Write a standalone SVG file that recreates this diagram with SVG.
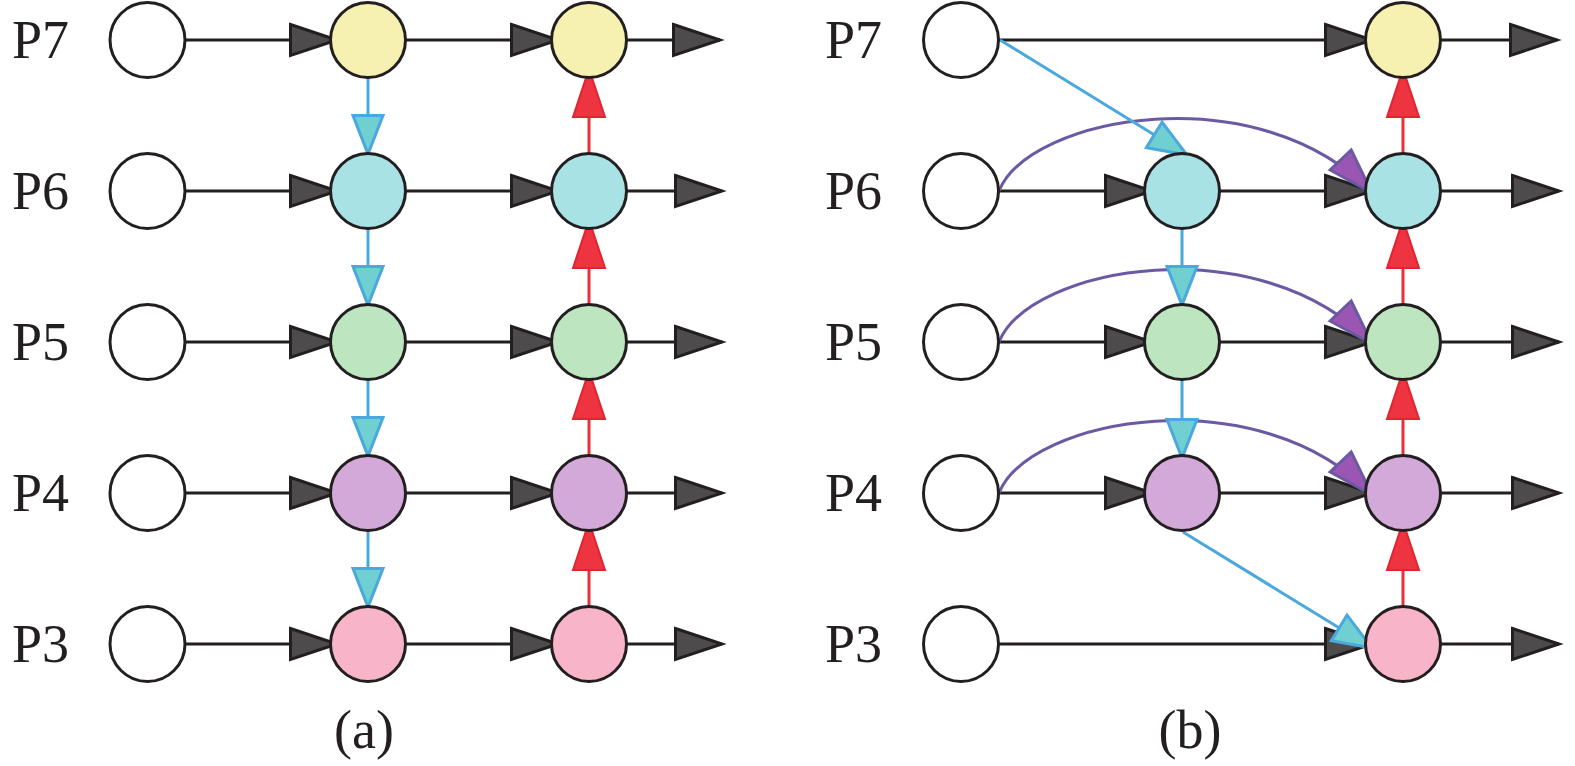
<svg xmlns="http://www.w3.org/2000/svg" width="1575" height="766" viewBox="0 0 1575 766">
<style>
.n{stroke:#231f20;stroke-width:3}
.e{fill:#ffffff}
.y{fill:#f6f1b0}
.c{fill:#a8e2e4}
.g{fill:#bde5c0}
.p{fill:#d3a9da}
.k{fill:#f8b5c9}
.lk{stroke:#231f20;stroke-width:3;fill:none;marker-end:url(#mk)}
.lb{stroke:#4aa8dc;stroke-width:3;fill:none;marker-end:url(#mb)}
.lr{stroke:#e8303a;stroke-width:3;fill:none;marker-end:url(#mr)}
.lp{stroke:#6b59a3;stroke-width:3;fill:none;marker-end:url(#mp)}
text{font-family:"Liberation Serif","Times New Roman",serif;fill:#231f20}
.lab{font-size:54px}
.cap{font-size:54px;text-anchor:middle}
</style>
<defs>
<marker id="mk" markerUnits="userSpaceOnUse" markerWidth="60" markerHeight="40" refX="48" refY="17" orient="auto" overflow="visible">
<path d="M1.5,1.5 L48,17 L1.5,32.5 Z" fill="#4d4b4c" stroke="#231f20" stroke-width="3"/>
</marker>
<marker id="mb" markerUnits="userSpaceOnUse" markerWidth="60" markerHeight="40" refX="40" refY="16.5" orient="auto" overflow="visible">
<path d="M1.5,1.5 L40,16.5 L1.5,31.5 Z" fill="#70cfd0" stroke="#4aa8dc" stroke-width="3"/>
</marker>
<marker id="mr" markerUnits="userSpaceOnUse" markerWidth="60" markerHeight="40" refX="49" refY="17" orient="auto" overflow="visible">
<path d="M1,1 L49,17 L1,33 Z" fill="#ee3440" stroke="#e2242f" stroke-width="2"/>
</marker>
<marker id="mp" markerUnits="userSpaceOnUse" markerWidth="60" markerHeight="40" refX="47" refY="16" orient="auto" overflow="visible">
<path d="M1.5,1.5 L47,16 L1.5,30.5 Z" fill="#9a56b2" stroke="#6b59a3" stroke-width="3"/>
</marker>
</defs>

<g id="connectors">
<line class="lk" x1="185" y1="40" x2="337" y2="40"/>
<line class="lk" x1="406" y1="40" x2="558" y2="40"/>
<line class="lk" x1="627" y1="40" x2="720" y2="40"/>
<line class="lk" x1="185" y1="191" x2="337" y2="191"/>
<line class="lk" x1="406" y1="191" x2="558" y2="191"/>
<line class="lk" x1="627" y1="191" x2="722" y2="191"/>
<line class="lk" x1="185" y1="342" x2="337" y2="342"/>
<line class="lk" x1="406" y1="342" x2="558" y2="342"/>
<line class="lk" x1="627" y1="342" x2="722" y2="342"/>
<line class="lk" x1="185" y1="493" x2="337" y2="493"/>
<line class="lk" x1="406" y1="493" x2="558" y2="493"/>
<line class="lk" x1="627" y1="493" x2="722" y2="493"/>
<line class="lk" x1="185" y1="644" x2="337" y2="644"/>
<line class="lk" x1="406" y1="644" x2="558" y2="644"/>
<line class="lk" x1="627" y1="644" x2="722" y2="644"/>
<line class="lb" x1="368" y1="78" x2="368" y2="154"/>
<line class="lb" x1="368" y1="229" x2="368" y2="305"/>
<line class="lb" x1="368" y1="380" x2="368" y2="456"/>
<line class="lb" x1="368" y1="531" x2="368" y2="607"/>
<line class="lr" x1="589" y1="153" x2="589" y2="69"/>
<line class="lr" x1="589" y1="304" x2="589" y2="220"/>
<line class="lr" x1="589" y1="455" x2="589" y2="371"/>
<line class="lr" x1="589" y1="606" x2="589" y2="522"/>
<line class="lk" x1="999" y1="40" x2="1372" y2="40"/>
<line class="lk" x1="1441" y1="40" x2="1557" y2="40"/>
<line class="lk" x1="999" y1="191" x2="1152" y2="191"/>
<line class="lk" x1="1219" y1="191" x2="1372" y2="191"/>
<line class="lk" x1="1441" y1="191" x2="1559" y2="191"/>
<line class="lk" x1="999" y1="342" x2="1152" y2="342"/>
<line class="lk" x1="1219" y1="342" x2="1372" y2="342"/>
<line class="lk" x1="1441" y1="342" x2="1559" y2="342"/>
<line class="lk" x1="999" y1="493" x2="1152" y2="493"/>
<line class="lk" x1="1219" y1="493" x2="1372" y2="493"/>
<line class="lk" x1="1441" y1="493" x2="1559" y2="493"/>
<line class="lk" x1="999" y1="644" x2="1372" y2="644"/>
<line class="lk" x1="1441" y1="644" x2="1559" y2="644"/>
<path class="lp" d="M999,191 C1030,115 1260,75 1372,193"/>
<path class="lp" d="M999,342 C1030,266 1260,226 1372,344"/>
<path class="lp" d="M999,493 C1030,417 1260,377 1372,495"/>
<line class="lb" x1="1000" y1="40" x2="1187" y2="155"/>
<line class="lb" x1="1182" y1="229" x2="1182" y2="305"/>
<line class="lb" x1="1182" y1="380" x2="1182" y2="458"/>
<line class="lb" x1="1183" y1="532" x2="1372" y2="648"/>
<line class="lr" x1="1403" y1="153" x2="1403" y2="69"/>
<line class="lr" x1="1403" y1="304" x2="1403" y2="220"/>
<line class="lr" x1="1403" y1="455" x2="1403" y2="371"/>
<line class="lr" x1="1403" y1="606" x2="1403" y2="522"/>
</g>

<g id="a-P7-0"><circle class="n e" cx="147.5" cy="40" r="37.5"/></g>
<g id="a-P7-1"><circle class="n y" cx="368" cy="40" r="37.5"/></g>
<g id="a-P7-2"><circle class="n y" cx="589" cy="40" r="37.5"/></g>
<g id="a-P6-0"><circle class="n e" cx="147.5" cy="191" r="37.5"/></g>
<g id="a-P6-1"><circle class="n c" cx="368" cy="191" r="37.5"/></g>
<g id="a-P6-2"><circle class="n c" cx="589" cy="191" r="37.5"/></g>
<g id="a-P5-0"><circle class="n e" cx="147.5" cy="342" r="37.5"/></g>
<g id="a-P5-1"><circle class="n g" cx="368" cy="342" r="37.5"/></g>
<g id="a-P5-2"><circle class="n g" cx="589" cy="342" r="37.5"/></g>
<g id="a-P4-0"><circle class="n e" cx="147.5" cy="493" r="37.5"/></g>
<g id="a-P4-1"><circle class="n p" cx="368" cy="493" r="37.5"/></g>
<g id="a-P4-2"><circle class="n p" cx="589" cy="493" r="37.5"/></g>
<g id="a-P3-0"><circle class="n e" cx="147.5" cy="644" r="37.5"/></g>
<g id="a-P3-1"><circle class="n k" cx="368" cy="644" r="37.5"/></g>
<g id="a-P3-2"><circle class="n k" cx="589" cy="644" r="37.5"/></g>

<g id="b-P7-0"><circle class="n e" cx="961" cy="40" r="37.5"/></g>
<g id="b-P7-2"><circle class="n y" cx="1403" cy="40" r="37.5"/></g>
<g id="b-P6-0"><circle class="n e" cx="961" cy="191" r="37.5"/></g>
<g id="b-P6-1"><circle class="n c" cx="1182" cy="191" r="37.5"/></g>
<g id="b-P6-2"><circle class="n c" cx="1403" cy="191" r="37.5"/></g>
<g id="b-P5-0"><circle class="n e" cx="961" cy="342" r="37.5"/></g>
<g id="b-P5-1"><circle class="n g" cx="1182" cy="342" r="37.5"/></g>
<g id="b-P5-2"><circle class="n g" cx="1403" cy="342" r="37.5"/></g>
<g id="b-P4-0"><circle class="n e" cx="961" cy="493" r="37.5"/></g>
<g id="b-P4-1"><circle class="n p" cx="1182" cy="493" r="37.5"/></g>
<g id="b-P4-2"><circle class="n p" cx="1403" cy="493" r="37.5"/></g>
<g id="b-P3-0"><circle class="n e" cx="961" cy="644" r="37.5"/></g>
<g id="b-P3-2"><circle class="n k" cx="1403" cy="644" r="37.5"/></g>

<g id="labels">
<text class="lab" x="12" y="58">P7</text>
<text class="lab" x="12" y="209">P6</text>
<text class="lab" x="12" y="360">P5</text>
<text class="lab" x="12" y="511">P4</text>
<text class="lab" x="12" y="662">P3</text>
<text class="lab" x="825" y="58">P7</text>
<text class="lab" x="825" y="209">P6</text>
<text class="lab" x="825" y="360">P5</text>
<text class="lab" x="825" y="511">P4</text>
<text class="lab" x="825" y="662">P3</text>
<text class="cap" x="364" y="748">(a)</text>
<text class="cap" x="1190" y="748">(b)</text>
</g>
</svg>
